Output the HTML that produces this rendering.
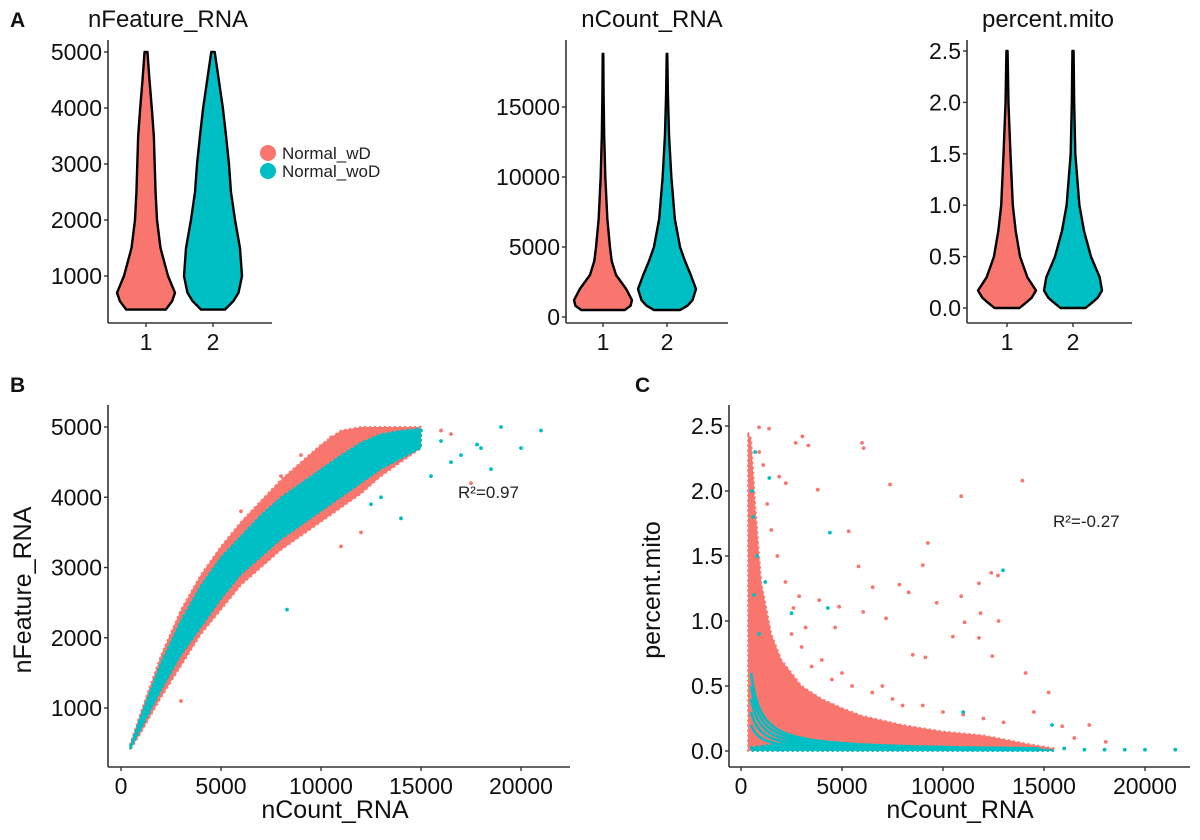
<!DOCTYPE html>
<html><head><meta charset="utf-8"><style>
html,body{margin:0;padding:0;background:#fff;}
svg{display:block;font-family:"Liberation Sans",sans-serif;}
</style></head><body>
<svg id="fig" width="1200" height="840" viewBox="0 0 1200 840"></svg>
<script>
// ---------- Violin data (relative density at value) ----------
const v1Vals = [400,550,700,1000,1500,2000,2500,3000,3500,4000,4500,5000];
const v1Red  = [0.68,0.9,1.0,0.76,0.5,0.38,0.33,0.3,0.27,0.2,0.12,0.05];
const v1Vals2= [400,550,700,1000,1500,2000,2500,3000,3500,4000,4500,5000];
const v1Cyan = [0.41,0.7,0.88,1.0,0.93,0.76,0.62,0.55,0.45,0.34,0.2,0.06];
const v2Vals = [500,800,1200,2000,3000,4000,5000,7000,10000,13000,16000,18800];
const v2Red  = [0.75,0.95,1.0,0.8,0.45,0.3,0.24,0.15,0.08,0.04,0.02,0.01];
const v2Cyan = [0.45,0.7,0.88,1.0,0.82,0.62,0.45,0.27,0.15,0.07,0.03,0.01];
const v3Vals = [0,0.05,0.1,0.17,0.3,0.5,0.75,1.0,1.5,2.0,2.5];
const v3Red  = [0.43,0.65,0.85,1.0,0.7,0.45,0.3,0.2,0.12,0.05,0.02];
const v3Cyan = [0.43,0.65,0.85,1.0,0.92,0.62,0.38,0.22,0.08,0.04,0.02];
// ---------- Scatter B bands ----------
const bCount  = [450,1000,2000,3000,4000,5000,6000,7000,8000,9000,10000,11000,12000,13000,14000,15000];
const bRedHi  = [480,950,1750,2400,2900,3300,3650,3950,4250,4500,4750,4950,5000,5000,5000,5000];
const bRedLo  = [400,650,1150,1600,2050,2400,2750,3000,3250,3450,3650,3850,4050,4300,4500,4700];
const bCyanHi = [460,900,1650,2250,2750,3150,3450,3750,4000,4200,4400,4600,4780,4900,4950,4980];
const bCyanLo = [400,700,1250,1750,2150,2550,2900,3150,3400,3600,3800,4000,4200,4400,4550,4700];
const bRedPts = [[16000,4950],[17500,4200],[12000,3500],[9000,4600],[8000,4300],[3000,1100],[16500,4900],[10500,4850],[7500,4050],[13500,4950],[6000,3800],[11000,3300]];
const bCyanPts= [[8300,2400],[15000,4950],[16000,4800],[17000,4600],[18000,4700],[19000,5000],[20000,4700],[21000,4950],[14000,3700],[13000,4000],[15500,4300],[16500,4500],[12500,3900],[17800,4750],[18500,4400]];
// ---------- Scatter C ----------
const cCount   = [350,500,700,1000,1500,2000,3000,4000,5000,6000,8000,10000,12000,14000,15500];
const cRedHi   = [2.45,2.4,1.9,1.3,0.9,0.7,0.5,0.4,0.33,0.27,0.2,0.15,0.12,0.06,0.02];
const cRedPts  = [[5990,2.37],[6070,2.33],[7380,2.05],[10900,1.96],[13930,2.08],[9250,1.6],[9000,1.43],[12390,1.37],[12720,1.35],[11780,1.29],[11860,1.06],[12750,1.0],[11070,0.99],[9690,1.14],[10900,1.19],[11780,0.87],[12440,0.73],[14090,0.6],[15230,0.45],[15900,0.19],[17240,0.2],[18060,0.07],[5820,1.42],[5330,1.69],[3800,2.01],[3040,2.42],[3340,2.35],[2710,2.37],[7840,1.28],[8300,1.22],[7180,1.02],[6050,1.07],[4660,0.95],[9130,0.72],[10490,0.88],[8500,0.74],[6520,1.26],[3870,1.16],[4860,1.11],[2880,1.19],[2220,2.06],[1890,2.11],[1390,2.48],[890,2.49],[3000,0.8],[3500,0.65],[4000,0.7],[2500,0.9],[4500,0.55],[5000,0.6],[5500,0.5],[6500,0.45],[7000,0.5],[7500,0.4],[8000,0.35],[9000,0.35],[10000,0.3],[11000,0.28],[12000,0.25],[13000,0.22],[2200,1.3],[1800,1.5],[2600,1.1],[3200,0.95],[1500,1.7],[1300,1.9],[1100,2.2],[900,2.3],[14500,0.3],[16500,0.1]];
const cCyanPts = [[4400,1.68],[4300,1.1],[2500,1.06],[12970,1.39],[1400,2.1],[700,2.3],[800,1.5],[1200,1.3],[15400,0.2],[11000,0.3],[17000,0.01],[18000,0.01],[19000,0.01],[20000,0.01],[21500,0.01],[16000,0.02],[600,1.8],[650,1.2],[550,2.0],[900,0.9]];
const cMitoReads = [1,1.5,2,2.5,3];
const cMinCount = 500;
const cMaxCount = 15000;
const cCyanBandX = [500,2000,5000,8000,11000,14000,15500];
const cCyanBandY = [0.03,0.06,0.05,0.04,0.03,0.02,0.01];

const RED="#F8766D", CYAN="#00BFC4";
const svg=document.getElementById('fig');
const NS="http://www.w3.org/2000/svg";
function el(tag,attrs,parent){const e=document.createElementNS(NS,tag);for(const k in attrs)e.setAttribute(k,attrs[k]);(parent||svg).appendChild(e);return e;}
function txt(s,attrs,parent){const e=el('text',attrs,parent);e.textContent=s;return e;}
function lin(d0,d1,r0,r1){return v=>r0+(v-d0)*(r1-r0)/(d1-d0);}

function axes(name,x0,yTop,yBot,xEnd,yTicks,yScale,fmt){
  const g=el('g',{});
  
  
  el('line',{x1:x0,y1:yTop,x2:x0,y2:yBot,stroke:'#333','stroke-width':1.6},g);
  el('line',{x1:x0,y1:yBot,x2:xEnd,y2:yBot,stroke:'#333','stroke-width':1.6},g);
  yTicks.forEach(t=>{const y=yScale(t);
    el('line',{x1:x0-4,y1:y,x2:x0,y2:y,stroke:'#333','stroke-width':1.4},g);
    const l=txt(fmt(t),{x:x0-6,y:y+8,'text-anchor':'end','font-size':23,fill:'#111'},g);
    
    
  });
  return g;
}
function xTicks(g,vals,labels,xScale,yBot){
  vals.forEach((v,i)=>{const x=xScale(v);
    el('line',{x1:x,y1:yBot,x2:x,y2:yBot+4,stroke:'#333','stroke-width':1.4},g);
    const l=txt(labels[i],{x:x,y:yBot+27,'text-anchor':'middle','font-size':23,fill:'#111'},g);
    
    
  });
}
function violin(name,cx,vals,dens,yScale,maxHW,color){
  let left=[],right=[];
  vals.forEach((v,i)=>{const y=yScale(v),w=dens[i]*maxHW;right.push([cx+w,y]);left.push([cx-w,y]);});
  const pts=right.concat(left.reverse());
  const p=el('polygon',{points:pts.map(p=>p.join(',')).join(' '),fill:color,stroke:'#000','stroke-width':2.4,'stroke-linejoin':'round'});
  
  
}

// Panel labels
[['A',10,27],['B',10,392],['C',635,392]].forEach(a=>{const t=txt(a[0],{x:a[1],y:a[2],'font-size':21,'font-weight':'bold',fill:'#111'});
  
  });

// ---------- Violin 1 ----------
{const ys=lin(1000,5000,276,52);
 const g=axes('nfeature-violin',108,40,323,272,[1000,2000,3000,4000,5000],ys,String);
 xTicks(g,[146,213],['1','2'],v=>v,323);
 const t=txt('nFeature_RNA',{x:168,y:27,'text-anchor':'middle','font-size':24,fill:'#111'});
 
 violin('violin-nfeature-wd',146,v1Vals,v1Red,ys,29,RED);
 violin('violin-nfeature-wod',213,v1Vals2,v1Cyan,ys,29,CYAN);
 const lg=el('g',{});
 
 
 el('circle',{cx:268,cy:153,r:8,fill:RED},lg);
 el('circle',{cx:268,cy:171,r:8,fill:CYAN},lg);
 txt('Normal_wD',{x:282,y:159,'font-size':17,fill:'#222'},lg);
 txt('Normal_woD',{x:282,y:177,'font-size':17,fill:'#222'},lg);
}
// ---------- Violin 2 ----------
{const ys=lin(0,15000,317,107);
 const g=axes('ncount-violin',566,40,323,728,[0,5000,10000,15000],ys,String);
 xTicks(g,[603,667],['1','2'],v=>v,323);
 const t=txt('nCount_RNA',{x:652,y:27,'text-anchor':'middle','font-size':24,fill:'#111'});
 
 violin('violin-ncount-wd',603,v2Vals,v2Red,ys,29,RED);
 violin('violin-ncount-wod',667,v2Vals,v2Cyan,ys,29,CYAN);
}
// ---------- Violin 3 ----------
{const ys=lin(0,2.5,308,51);
 const g=axes('mito-violin',967,40,323,1132,[0,0.5,1,1.5,2,2.5],ys,v=>v.toFixed(1));
 xTicks(g,[1007,1073],['1','2'],v=>v,323);
 const t=txt('percent.mito',{x:1048,y:27,'text-anchor':'middle','font-size':24,fill:'#111'});
 
 violin('violin-mito-wd',1007,v3Vals,v3Red,ys,29,RED);
 violin('violin-mito-wod',1073,v3Vals,v3Cyan,ys,29,CYAN);
}
function band(name,xs,hi,lo,xS,yS,color){
  const pts=xs.map((x,i)=>[xS(x),yS(hi[i])]).concat(xs.map((x,i)=>[xS(x),yS(lo[i])]).reverse());
  const p=el('polygon',{points:pts.map(p=>p.join(',')).join(' '),fill:color,stroke:color,'stroke-width':2,'stroke-dasharray':'2 3','stroke-linejoin':'round'});
  
  
}
function dots(name,pts,xS,yS,color){
  pts.forEach(d=>{const c=el('circle',{cx:xS(d[0]),cy:yS(d[1]),r:1.9,fill:color});
    
    });
}
// ---------- Scatter B ----------
{const xs=lin(0,20000,121,521), ys=lin(1000,5000,708,427);
 const g=axes('scatter-b',108,405,767,570,[1000,2000,3000,4000,5000],ys,String);
 xTicks(g,[0,5000,10000,15000,20000],['0','5000','10000','15000','20000'],xs,767);
 const xt=txt('nCount_RNA',{x:335,y:818,'text-anchor':'middle','font-size':25,fill:'#111'});
 
 const yt=txt('nFeature_RNA',{x:0,y:0,'text-anchor':'middle','font-size':25,fill:'#111',transform:'translate(31,590) rotate(-90)'});
 
 band('band-b-wd',bCount,bRedHi,bRedLo,xs,ys,RED);
 dots('point-b-wd',bRedPts,xs,ys,RED);
 band('band-b-wod',bCount,bCyanHi,bCyanLo,xs,ys,CYAN);
 dots('point-b-wod',bCyanPts,xs,ys,CYAN);
 const r=txt('R²=0.97',{x:458,y:498,'font-size':17,fill:'#222'});
 
}
// ---------- Scatter C ----------
{const xs=lin(0,20000,741,1145), ys=lin(0,2.5,751,426);
 const g=axes('scatter-c',729,405,767,1190,[0,0.5,1,1.5,2,2.5],ys,v=>v.toFixed(1));
 xTicks(g,[0,5000,10000,15000,20000],['0','5000','10000','15000','20000'],xs,767);
 const xt=txt('nCount_RNA',{x:960,y:818,'text-anchor':'middle','font-size':25,fill:'#111'});
 
 const yt=txt('percent.mito',{x:0,y:0,'text-anchor':'middle','font-size':25,fill:'#111',transform:'translate(660,590) rotate(-90)'});
 
 band('cloud-c-wd',cCount,cRedHi,cCount.map(()=>0),xs,ys,RED);
 dots('point-c-wd',cRedPts,xs,ys,RED);
 cMitoReads.forEach(k=>{
   let d='';const counts=[];for(let c=cMinCount;c<=cMaxCount;c*=1.08)counts.push(c);
   counts.forEach((c,i)=>{d+=(i?'L':'M')+xs(c).toFixed(1)+','+ys(100*k/c).toFixed(1);});
   const p=el('path',{d:d,fill:'none',stroke:CYAN,'stroke-width':2.6});
   
   
 });
 band('band-c-wod',cCyanBandX,cCyanBandY,cCyanBandX.map(()=>0),xs,ys,CYAN);
 dots('point-c-wod',cCyanPts,xs,ys,CYAN);
 const r=txt('R²=-0.27',{x:1053,y:527,'font-size':17,fill:'#222'});
 
}
</script>
</body></html>
